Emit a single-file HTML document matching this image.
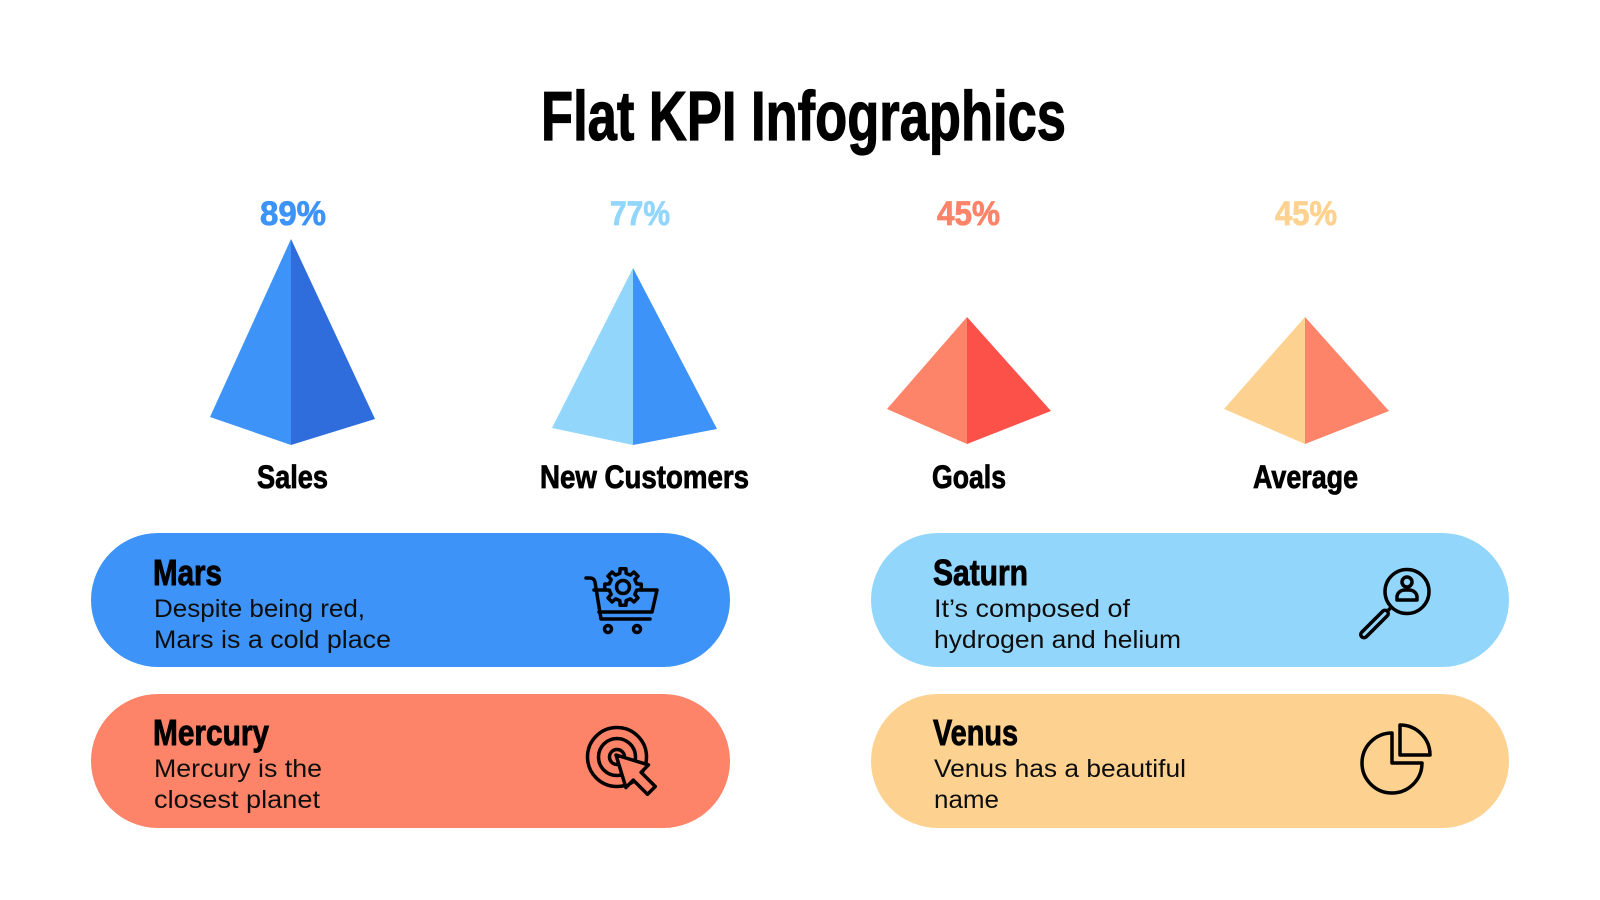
<!DOCTYPE html>
<html>
<head>
<meta charset="utf-8">
<style>
html,body{margin:0;padding:0;background:#fff;}
svg{display:block;}
</style>
</head>
<body>
<svg width="1600" height="900" viewBox="0 0 1600 900" xmlns="http://www.w3.org/2000/svg">
<rect width="1600" height="900" fill="#ffffff"/>
<g font-family="'Liberation Sans', Arial, sans-serif">
  <!-- Title -->
  <text x="541" y="140" font-size="70" font-weight="bold" fill="#000" stroke="#000" stroke-width="1.2" textLength="525" lengthAdjust="spacingAndGlyphs">Flat KPI Infographics</text>

  <!-- Percentages -->
  <text x="260" y="225" font-size="34" font-weight="bold" fill="#3d93f8" stroke="#3d93f8" stroke-width="0.8" textLength="66" lengthAdjust="spacingAndGlyphs">89%</text>
  <text x="610" y="225" font-size="34" font-weight="bold" fill="#93d6fc" stroke="#93d6fc" stroke-width="0.8" textLength="60" lengthAdjust="spacingAndGlyphs">77%</text>
  <text x="937" y="225" font-size="34" font-weight="bold" fill="#fd8468" stroke="#fd8468" stroke-width="0.8" textLength="63" lengthAdjust="spacingAndGlyphs">45%</text>
  <text x="1275" y="225" font-size="34" font-weight="bold" fill="#fdd291" stroke="#fdd291" stroke-width="0.8" textLength="62" lengthAdjust="spacingAndGlyphs">45%</text>

  <!-- Pyramids -->
  <polygon points="291,239 210,417 291,445" fill="#3d93f8"/>
  <polygon points="291,239 291,445 375,419" fill="#2f6ddd"/>

  <polygon points="633,268 552,428 633,445" fill="#93d6fc"/>
  <polygon points="633,268 633,445 717,429" fill="#3d93f8"/>

  <polygon points="967,317 887,409 967,444" fill="#fd8468"/>
  <polygon points="967,317 967,444 1051,411" fill="#fb5149"/>

  <polygon points="1305,317 1224,409 1305,444" fill="#fdd291"/>
  <polygon points="1305,317 1305,444 1389,411" fill="#fd8468"/>

  <!-- Labels -->
  <g fill="#000" stroke="#000" stroke-width="0.8" font-size="32" font-weight="bold">
  <text x="257" y="488" textLength="71" lengthAdjust="spacingAndGlyphs">Sales</text>
  <text x="540" y="488" textLength="209" lengthAdjust="spacingAndGlyphs">New Customers</text>
  <text x="932" y="488" textLength="74" lengthAdjust="spacingAndGlyphs">Goals</text>
  <text x="1253" y="488" textLength="105" lengthAdjust="spacingAndGlyphs">Average</text>
  </g>

  <!-- Pills -->
  <rect x="91" y="533" width="639" height="134" rx="67" ry="67" fill="#3d93f8"/>
  <rect x="91" y="694" width="639" height="134" rx="67" ry="67" fill="#fd8468"/>
  <rect x="871" y="533" width="638" height="134" rx="67" ry="67" fill="#93d6fc"/>
  <rect x="871" y="694" width="638" height="134" rx="67" ry="67" fill="#fdd291"/>

  <!-- Pill texts -->
  <g fill="#000" stroke="#000" stroke-width="0.9" font-size="36" font-weight="bold">
  <text x="153" y="585" textLength="69" lengthAdjust="spacingAndGlyphs">Mars</text>
  <text x="153" y="745" textLength="116" lengthAdjust="spacingAndGlyphs">Mercury</text>
  <text x="933" y="585" textLength="95" lengthAdjust="spacingAndGlyphs">Saturn</text>
  <text x="933" y="745" textLength="85" lengthAdjust="spacingAndGlyphs">Venus</text>
  </g>
  <g fill="#0d0d0d" font-size="25">
  <text x="154" y="617" textLength="211" lengthAdjust="spacingAndGlyphs">Despite being red,</text>
  <text x="154" y="648" textLength="237" lengthAdjust="spacingAndGlyphs">Mars is a cold place</text>
  <text x="154" y="777" textLength="168" lengthAdjust="spacingAndGlyphs">Mercury is the</text>
  <text x="154" y="808" textLength="166" lengthAdjust="spacingAndGlyphs">closest planet</text>
  <text x="934" y="617" textLength="196" lengthAdjust="spacingAndGlyphs">It’s composed of</text>
  <text x="934" y="648" textLength="247" lengthAdjust="spacingAndGlyphs">hydrogen and helium</text>
  <text x="934" y="777" textLength="252" lengthAdjust="spacingAndGlyphs">Venus has a beautiful</text>
  <text x="934" y="808" textLength="65" lengthAdjust="spacingAndGlyphs">name</text>
  </g>
</g>

<!-- Icons -->
<g fill="none" stroke="#000" stroke-width="3.5" stroke-linecap="round" stroke-linejoin="round">
  <!-- Cart with gear -->
  <path d="M586,578 L590,578 Q594,578 595,582 L601,619 L650,619"/>
  <path d="M594,590 L606,590 M641,590 L657,590 L652,612 L599,612"/>
  <circle cx="608" cy="629" r="3.5"/>
  <circle cx="637" cy="629" r="3.5"/>
  <g transform="translate(623,587)">
    <path fill="#3d93f8" d="M-3.15,-13.64 L-2.89,-18.27 L2.89,-18.27 L3.15,-13.64 L7.42,-11.87 L10.87,-14.97 L14.97,-10.87 L11.87,-7.42 L13.64,-3.15 L18.27,-2.89 L18.27,2.89 L13.64,3.15 L11.87,7.42 L14.97,10.87 L10.87,14.97 L7.42,11.87 L3.15,13.64 L2.89,18.27 L-2.89,18.27 L-3.15,13.64 L-7.42,11.87 L-10.87,14.97 L-14.97,10.87 L-11.87,7.42 L-13.64,3.15 L-18.27,2.89 L-18.27,-2.89 L-13.64,-3.15 L-11.87,-7.42 L-14.97,-10.87 L-10.87,-14.97 L-7.42,-11.87 Z"/>
    <circle cx="0" cy="0" r="6.5"/>
  </g>

  <!-- Target with cursor -->
  <circle cx="617" cy="757" r="29.5"/>
  <circle cx="617" cy="757" r="18.5"/>
  <circle cx="617" cy="757" r="7.5"/>
  <polygon fill="#fd8468" points="616,755 648.5,764.9 641.1,772.3 655.3,786.5 647.5,794.3 633.3,780.1 625.9,787.5"/>

  <!-- Magnifier with user -->
  <circle cx="1407" cy="591.5" r="22"/>
  <circle cx="1407" cy="582" r="5"/>
  <path d="M1397,600 h20 v-3 a8,7 0 0 0 -8,-7 h-4 a8,7 0 0 0 -8,7 z"/>
  <line x1="1391.4" y1="607.1" x2="1387" y2="611.5"/>
</g>
<line x1="1385" y1="613.5" x2="1364" y2="634.5" stroke="#000" stroke-width="10" stroke-linecap="round"/>
<line x1="1385" y1="613.5" x2="1364" y2="634.5" stroke="#93d6fc" stroke-width="3" stroke-linecap="round"/>

<g fill="none" stroke="#000" stroke-width="3.5" stroke-linecap="round" stroke-linejoin="round">
  <!-- Pie chart -->
  <path d="M1392,733 A30,30 0 1,0 1422,763 L1392,763 Z"/>
  <path d="M1400,755 L1400,725 A30,30 0 0,1 1430,755 Z"/>
</g>
</svg>
</body>
</html>
